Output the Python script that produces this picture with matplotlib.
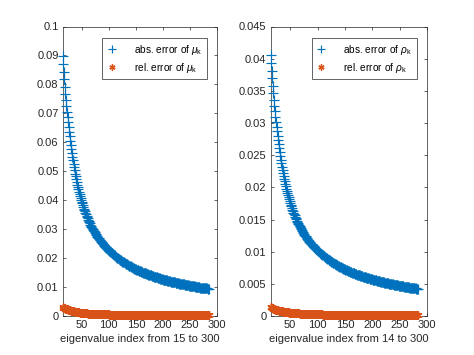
import numpy as np
import matplotlib
matplotlib.use("Agg")
import matplotlib.pyplot as plt

plt.rcParams['font.family'] = ['Liberation Sans', 'DejaVu Sans']
plt.rcParams['mathtext.fontset'] = 'custom'
plt.rcParams['mathtext.rm'] = 'Liberation Sans'
plt.rcParams['mathtext.it'] = 'Liberation Sans:italic'

# ---------------- data ----------------
# left panel: indices 15..284
x_left_start, x_left_end = 15, 284
# absolute error of mu_k (units of 1e-4)
abs_mu_e4 = [
    899, 870, 844, 819, 792, 768, 745, 724, 704, 686,
    669, 652, 637, 621, 606, 592, 578, 564, 550, 538,
    526, 514, 503, 492, 482, 472, 463, 454, 446, 438,
    430, 422, 415, 408, 402, 395, 389, 383, 377, 371,
    366, 361, 356, 351, 346, 341, 337, 333, 328, 324,
    320, 316, 312, 309, 305, 302, 298, 295, 292, 289,
    286, 283, 280, 277, 274, 271, 269, 266, 263, 261,
    258, 256, 254, 251, 249, 247, 245, 243, 240, 238,
    236, 235, 233, 231, 229, 227, 225, 223, 222, 220,
    218, 217, 215, 213, 212, 210, 209, 207, 205, 204,
    202, 201, 199, 198, 196, 195, 194, 192, 191, 190,
    188, 187, 186, 185, 183, 182, 181, 180, 179, 178,
    176, 175, 174, 173, 172, 171, 170, 169, 168, 167,
    166, 165, 164, 163, 162, 161, 160, 160, 159, 158,
    157, 156, 155, 154, 154, 153, 152, 151, 150, 150,
    149, 148, 147, 147, 146, 145, 144, 144, 143, 142,
    142, 141, 140, 140, 139, 138, 138, 137, 136, 136,
    135, 134, 134, 133, 133, 132, 131, 131, 130, 130,
    129, 129, 128, 127, 127, 126, 126, 125, 125, 124,
    124, 123, 123, 122, 122, 121, 121, 120, 120, 119,
    119, 118, 118, 117, 117, 116, 116, 116, 115, 115,
    114, 114, 113, 113, 113, 112, 112, 111, 111, 111,
    110, 110, 109, 109, 109, 108, 108, 107, 107, 107,
    106, 106, 106, 105, 105, 104, 104, 104, 103, 103,
    103, 102, 102, 102, 101, 101, 101, 100, 100, 100,
    99, 99, 99, 98, 98, 98, 98, 97, 97, 97,
    96, 96, 96, 95, 95, 95, 95, 94, 94, 94,
]
# relative error of mu_k (units of 1e-5)
rel_mu_e5 = [
    300, 290, 281, 272, 263, 255, 247, 239, 232, 225,
    218, 212, 206, 200, 194, 188, 183, 177, 172, 167,
    163, 158, 154, 149, 145, 141, 137, 133, 130, 126,
    123, 120, 117, 114, 111, 108, 106, 103, 101, 99,
    97, 95, 93, 91, 89, 87, 86, 84, 83, 81,
    80, 79, 77, 76, 75, 74, 73, 72, 71, 70,
    69, 68, 67, 66, 65, 64, 63, 62, 62, 61,
    60, 59, 59, 58, 57, 57, 56, 56, 55, 55,
    54, 54, 53, 53, 52, 52, 51, 51, 51, 50,
    50, 49, 49, 48, 48, 48, 47, 47, 46, 46,
    46, 45, 45, 45, 44, 44, 44, 43, 43, 43,
    42, 42, 42, 42, 41, 41, 41, 40, 40, 40,
    40, 39, 39, 39, 39, 38, 38, 38, 38, 37,
    37, 37, 37, 37, 36, 36, 36, 36, 36, 35,
    35, 35, 35, 35, 35, 34, 34, 34, 34, 34,
    34, 33, 33, 33, 33, 33, 33, 32, 32, 32,
    32, 32, 32, 32, 31, 31, 31, 31, 31, 31,
    31, 30, 30, 30, 30, 30, 30, 30, 30, 29,
    29, 29, 29, 29, 29, 29, 29, 29, 28, 28,
    28, 28, 28, 28, 28, 28, 28, 28, 27, 27,
    27, 27, 27, 27, 27, 27, 27, 27, 27, 27,
    26, 26, 26, 26, 26, 26, 26, 26, 26, 26,
    26, 26, 25, 25, 25, 25, 25, 25, 25, 25,
    25, 25, 25, 25, 25, 25, 24, 24, 24, 24,
    24, 24, 24, 24, 24, 24, 24, 24, 24, 24,
    24, 23, 23, 23, 23, 23, 23, 23, 23, 23,
    23, 23, 23, 23, 23, 22, 22, 22, 22, 22,
]

# right panel: indices 14..283
x_right_start, x_right_end = 14, 283
# absolute error of rho_k (units of 1e-5)
abs_rho_e5 = [
    4060, 3929, 3812, 3699, 3577, 3468, 3364, 3270, 3179, 3098,
    3021, 2944, 2877, 2804, 2737, 2673, 2610, 2547, 2484, 2430,
    2375, 2321, 2272, 2222, 2177, 2132, 2091, 2050, 2014, 1978,
    1942, 1906, 1874, 1843, 1815, 1784, 1757, 1730, 1703, 1675,
    1653, 1630, 1608, 1585, 1563, 1540, 1522, 1504, 1481, 1463,
    1445, 1427, 1409, 1395, 1377, 1364, 1346, 1332, 1319, 1305,
    1292, 1278, 1264, 1251, 1237, 1224, 1215, 1201, 1188, 1179,
    1165, 1156, 1147, 1134, 1124, 1115, 1106, 1097, 1084, 1075,
    1066, 1061, 1052, 1043, 1034, 1025, 1016, 1007, 1003, 994,
    984, 980, 971, 962, 957, 948, 944, 935, 926, 921,
    912, 908, 899, 894, 885, 881, 876, 867, 863, 858,
    849, 845, 840, 835, 826, 822, 817, 813, 808, 804,
    795, 790, 786, 781, 777, 772, 768, 763, 759, 754,
    750, 746, 742, 737, 733, 728, 724, 720, 717, 713,
    709, 705, 701, 697, 693, 690, 686, 682, 679, 676,
    672, 669, 665, 662, 658, 655, 652, 649, 645, 642,
    639, 636, 633, 630, 627, 624, 621, 618, 616, 612,
    610, 607, 604, 602, 599, 596, 593, 591, 588, 586,
    583, 580, 578, 575, 573, 570, 568, 566, 563, 561,
    559, 556, 554, 552, 550, 547, 545, 543, 541, 539,
    537, 534, 532, 530, 528, 526, 524, 522, 520, 518,
    516, 514, 513, 510, 509, 507, 505, 503, 501, 500,
    498, 496, 494, 492, 490, 489, 487, 485, 484, 482,
    480, 478, 477, 475, 474, 472, 471, 469, 467, 466,
    464, 463, 461, 460, 458, 457, 455, 454, 452, 451,
    449, 448, 447, 445, 443, 442, 441, 439, 438, 437,
    435, 434, 433, 431, 430, 429, 427, 426, 425, 424,
]
# relative error of rho_k (units of 1e-5)
rel_rho_e5 = [
    140, 135, 130, 125, 120, 115, 111, 107, 104, 101,
    98, 95, 92, 89, 86, 84, 82, 80, 78, 76,
    74, 72, 70, 68, 67, 65, 64, 62, 61, 59,
    58, 57, 56, 55, 54, 53, 52, 51, 50, 49,
    48, 47, 46, 45, 45, 44, 43, 42, 42, 41,
    40, 40, 39, 38, 38, 37, 37, 36, 36, 35,
    35, 34, 34, 33, 33, 32, 32, 32, 31, 31,
    30, 30, 30, 29, 29, 29, 28, 28, 28, 27,
    27, 27, 27, 26, 26, 26, 26, 25, 25, 25,
    25, 24, 24, 24, 24, 24, 23, 23, 23, 23,
    23, 22, 22, 22, 22, 22, 22, 21, 21, 21,
    21, 21, 21, 21, 20, 20, 20, 20, 20, 20,
    20, 19, 19, 19, 19, 19, 19, 19, 19, 18,
    18, 18, 18, 18, 18, 18, 18, 18, 17, 17,
    17, 17, 17, 17, 17, 17, 17, 17, 17, 16,
    16, 16, 16, 16, 16, 16, 16, 16, 16, 16,
    15, 15, 15, 15, 15, 15, 15, 15, 15, 15,
    15, 15, 14, 14, 14, 14, 14, 14, 14, 14,
    14, 14, 14, 14, 13, 13, 13, 13, 13, 13,
    13, 13, 13, 13, 13, 13, 13, 13, 13, 12,
    12, 12, 12, 12, 12, 12, 12, 12, 12, 12,
    12, 12, 12, 12, 12, 12, 11, 11, 11, 11,
    11, 11, 11, 11, 11, 11, 11, 11, 11, 11,
    11, 11, 11, 11, 11, 11, 11, 11, 10, 10,
    10, 10, 10, 10, 10, 10, 10, 10, 10, 10,
    10, 10, 10, 10, 10, 10, 10, 10, 10, 10,
    10, 10, 10, 10, 10, 10, 10, 10, 10, 10,
]

x_ticks = [50, 100, 150, 200, 250, 300]
left_yticks = [0, 0.01, 0.02, 0.03, 0.04, 0.05, 0.06, 0.07, 0.08, 0.09, 0.1]
right_yticks = [0, 0.005, 0.01, 0.015, 0.02, 0.025, 0.03, 0.035, 0.04, 0.045]
left_xlabel = 'eigenvalue index from 15 to 300'
right_xlabel = 'eigenvalue index from 14 to 300'
left_labels = [r'abs. error of $\mu_{\rm k}$', r'rel. error of $\mu_{\rm k}$']
right_labels = [r'abs. error of $\rho_{\rm k}$', r'rel. error of $\rho_{\rm k}$']

BLUE = '#0072BD'
ORANGE = '#D95319'
AXC = '#262626'

W, H = 474, 355
fig = plt.figure(figsize=(W / 100, H / 100), dpi=100)

def fmt(v):
    return f'{v:g}'

def panel(rect, x, a, r, labels, xlim, yticks, xlabel):
    ax = fig.add_axes(rect)
    ax.plot(x, a, linestyle='none', marker='+', ms=7.0, mew=0.85,
            color=BLUE, label=labels[0], clip_on=False, zorder=3)
    ax.plot(x, r, linestyle='none', marker=(6, 2, 0), ms=5.8, mew=1.0,
            color=ORANGE, label=labels[1], clip_on=False, zorder=4)
    ax.set_xlim(*xlim)
    ax.set_ylim(yticks[0], yticks[-1])
    ax.set_xticks(x_ticks)
    ax.set_yticks(yticks)
    ax.set_yticklabels([fmt(v) for v in yticks])
    ax.tick_params(direction='in', length=2.5, width=0.5, color=AXC,
                   labelcolor=AXC, labelsize=8, top=True, right=True, pad=3)
    for s in ax.spines.values():
        s.set_color(AXC)
        s.set_linewidth(0.5)
    ax.set_xlabel(xlabel, fontsize=8, color=AXC, labelpad=3)
    leg = ax.legend(loc='upper right', bbox_to_anchor=(0.935, 0.96),
                    borderaxespad=0, fancybox=False, framealpha=1,
                    edgecolor=AXC, fontsize=7.3, handlelength=1.0,
                    handletextpad=1.7, borderpad=0.45, labelspacing=0.4,
                    markerscale=0.75)
    leg.get_frame().set_linewidth(0.5)
    return ax

xl = np.arange(x_left_start, x_left_end + 1)
xr = np.arange(x_right_start, x_right_end + 1)

panel([62.7 / W, 1 - 316 / H, 154.6 / W, 289.5 / H], xl,
      np.array(abs_mu_e4) * 1e-4, np.array(rel_mu_e5) * 1e-5,
      left_labels, (15, 300), left_yticks, left_xlabel)
panel([270.5 / W, 1 - 316 / H, 156.5 / W, 289.5 / H], xr,
      np.array(abs_rho_e5) * 1e-5, np.array(rel_rho_e5) * 1e-5,
      right_labels, (14, 300), right_yticks, right_xlabel)

fig.savefig('out.png', dpi=100)
